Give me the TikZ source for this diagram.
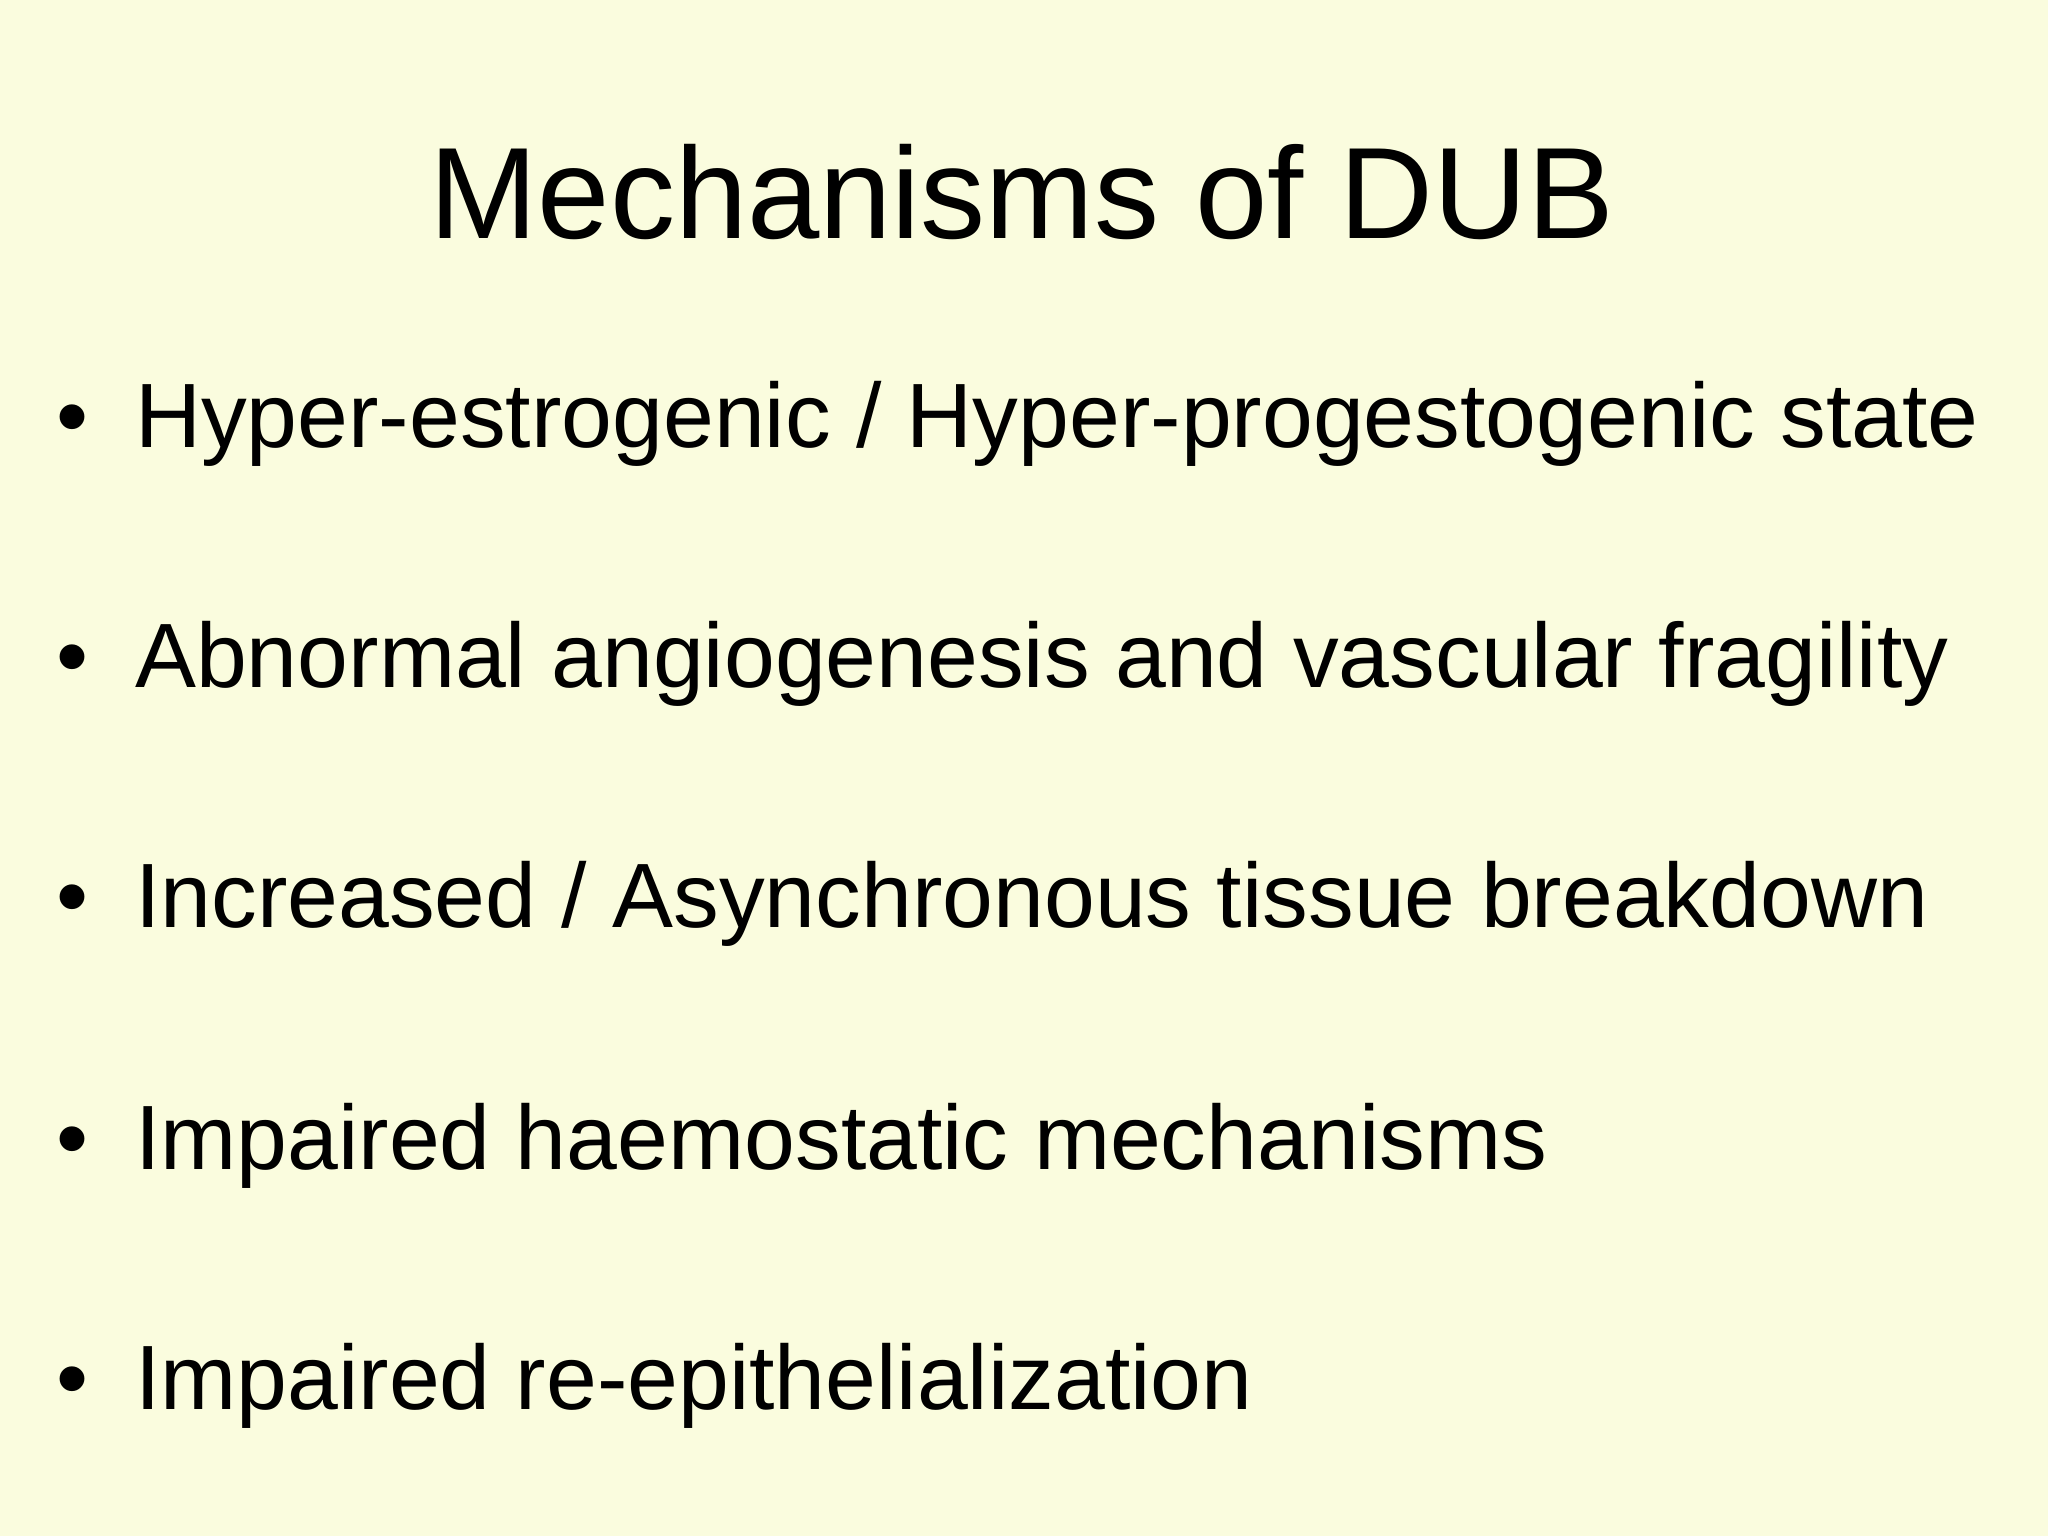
\documentclass[tikz,border=0pt]{standalone}
\usepackage{fontspec}
\setmainfont{Liberation Sans}
\definecolor{bg}{RGB}{250,252,222}
\begin{document}
\begin{tikzpicture}[x=1cm,y=-1cm,
  item/.style={anchor=base west,inner sep=0pt,font=\fontsize{26pt}{30pt}\selectfont},
  dot/.style={anchor=base,inner sep=0pt,font=\fontsize{26pt}{30pt}\selectfont}]
\fill[bg] (0,0) rectangle (20.48,15.36);
\useasboundingbox (0,0) rectangle (20.48,15.36);
\node[anchor=base,inner sep=0pt,font=\fontsize{37pt}{42pt}\selectfont] (title) at (10.22,2.39) {Mechanisms of DUB};
\foreach \t/\y [count=\i] in {{Hyper-estrogenic / Hyper-progestogenic state}/4.48,
  {Abnormal angiogenesis and vascular fragility}/6.88,
  {Increased / Asynchronous tissue breakdown}/9.28,
  {Impaired haemostatic mechanisms}/11.69,
  {Impaired re-epithelialization}/14.09}{
  \node[dot] (b\i) at (0.72,\y) {•};
  \node[item] (t\i) at (1.345,\y) {\t};
}
\end{tikzpicture}
\end{document}
